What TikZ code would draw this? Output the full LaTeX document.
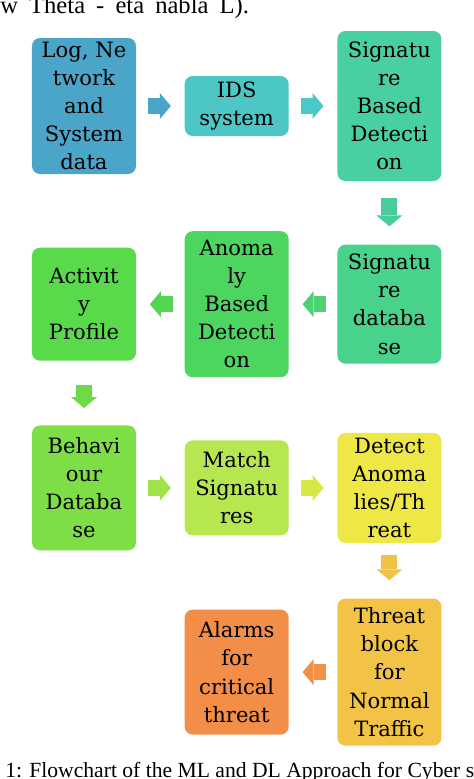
\documentclass[tikz,border=0pt]{standalone}
\usepackage{fontspec}
\setmainfont{DejaVu Serif}
\newfontfamily\capfont{Liberation Serif}
\usetikzlibrary{positioning}
\usetikzlibrary{arrows.meta}
\definecolor{logblue}{RGB}{74,165,200}
\definecolor{idsteal}{RGB}{77,199,198}
\definecolor{sigdetgreen}{RGB}{72,207,162}
\definecolor{sigdbgreen}{RGB}{72,210,140}
\definecolor{anomgreen}{RGB}{76,214,96}
\definecolor{actgreen}{RGB}{88,218,74}
\definecolor{behavgreen}{RGB}{125,222,70}
\definecolor{matchlime}{RGB}{182,230,80}
\definecolor{detectyellow}{RGB}{238,232,70}
\definecolor{threatamber}{RGB}{242,195,70}
\definecolor{alarmorange}{RGB}{242,142,72}
\definecolor{arrA}{RGB}{74,165,200}
\definecolor{arrB}{RGB}{77,200,200}
\definecolor{arrC}{RGB}{70,205,155}
\definecolor{arrD}{RGB}{76,210,112}
\definecolor{arrE}{RGB}{82,214,82}
\definecolor{arrF}{RGB}{110,218,70}
\definecolor{arrG}{RGB}{160,226,72}
\definecolor{arrH}{RGB}{215,232,70}
\definecolor{arrI}{RGB}{240,195,70}
\definecolor{arrJ}{RGB}{242,145,70}

\begin{document}
\begin{tikzpicture}[flow box/.style={rectangle, rounded corners=0.16cm, fill=#1, minimum width=2.08cm, inner sep=0pt, align=center, font=\fontsize{12}{16}\selectfont},
flow arrow/.style={draw=#1, line width=0.32cm, -{Triangle[width=0.52cm,length=0.22cm,line width=0pt]}, shorten <=0.23cm, shorten >=0.27cm}]
			\useasboundingbox (0,0) rectangle (9.48,-15.58);
			% Nodes
			\node[flow box=logblue, minimum height=2.72cm] (logdata) at (1.68,-2.12) {Log, Ne\\twork\\and\\System\\data};
			\node[flow box=idsteal, minimum height=1.2cm] (ids) [right=0.96cm of logdata] {IDS\\system};
			\node[flow box=sigdetgreen, minimum height=3cm] (sigdet) [right=0.96cm of ids] {Signatu\\re\\Based\\Detecti\\on};
			\node[flow box=sigdbgreen, minimum height=2.38cm] (sigdb) [below=1.26cm of sigdet] {Signatu\\re\\databa\\se};
			\node[flow box=anomgreen, minimum height=2.92cm] (anomdet) [left=0.96cm of sigdb] {Anoma\\ly\\Based\\Detecti\\on};
			\node[flow box=actgreen, minimum height=2.26cm] (activity) [left=0.96cm of anomdet] {Activit\\y\\Profile};
			\node[flow box=behavgreen, minimum height=2.5cm] (behav) [below=1.28cm of activity] {Behavi\\our\\Databa\\se};
			\node[flow box=matchlime, minimum height=1.9cm] (match) [right=0.96cm of behav] {Match\\Signatu\\res};
			\node[flow box=detectyellow, minimum height=2.2cm] (detect) [right=0.96cm of match] {Detect\\Anoma\\lies/Th\\reat};
			\node[flow box=threatamber, minimum height=2.94cm] (threat) [below=1.1cm of detect] {Threat\\block\\for\\Normal\\Traffic};
			\node[flow box=alarmorange, minimum height=2.5cm] (alarms) [left=0.96cm of threat] {Alarms\\for\\critical\\threat};

			% cut text above and caption below
			\node[anchor=base west, inner sep=0pt, font=\capfont\fontsize{14}{16}\selectfont] (prevline) at (0,-0.27) {\spaceskip=0.45em\relax w Theta - eta nabla L).};
			\node[anchor=base west, inner sep=0pt, font=\capfont\fontsize{12.3}{15}\selectfont] (caption) at (0.1,-15.54) {1: Flowchart of the ML and DL Approach for Cyber s};

			% Arrows
			\path
			(logdata) edge[flow arrow=arrA] (ids)
			(ids) edge[flow arrow=arrB] (sigdet)
			(sigdet) edge[flow arrow=arrC, shorten <=0.34cm, shorten >=0.36cm] (sigdb)
			(sigdb) edge[flow arrow=arrD] (anomdet)
			(anomdet) edge[flow arrow=arrE] (activity)
			(activity) edge[flow arrow=arrF, shorten <=0.48cm, shorten >=0.34cm] (behav)
			(behav) edge[flow arrow=arrG] (match)
			(match) edge[flow arrow=arrH] (detect)
			(detect) edge[flow arrow=arrI, shorten <=0.24cm, shorten >=0.36cm] (threat)
			(threat) edge[flow arrow=arrJ] (alarms);
		\end{tikzpicture}
\end{document}
